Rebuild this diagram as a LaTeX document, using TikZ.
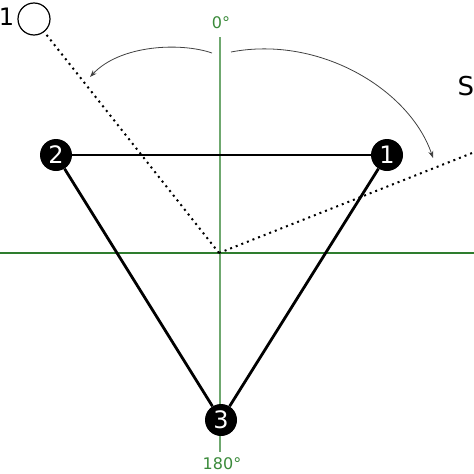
\documentclass[tikz,border=0pt]{standalone}
\usepackage{fontspec}
\setmainfont{DejaVu Sans}
\usetikzlibrary{arrows.meta}
\definecolor{axisgreen}{HTML}{2E7D2E}
\definecolor{vaxisgreen}{HTML}{6FA86F}
\definecolor{labelgreen}{HTML}{3A8A3A}
\definecolor{arcgray}{HTML}{404040}
\begin{document}
\begin{tikzpicture}[x=1pt,y=-1pt,
  vertex/.style={circle,fill=black,minimum size=32pt,inner sep=0pt,text=white,font=\fontsize{24}{24}\selectfont},
  ghost/.style={circle,draw=black,line width=1.2pt,fill=white,minimum size=32pt,inner sep=0pt},
  edge/.style={line width=2.8pt,black},
  dotline/.style={line width=2pt,dash pattern=on 2pt off 4pt,black},
  rotarrow/.style={line width=0.8pt,arcgray,-{Stealth[length=7pt,width=5pt]}},
  angle/.style={text=labelgreen,font=\fontsize{16}{16}\selectfont,inner sep=0pt},
  biglabel/.style={inner sep=0pt,font=\fontsize{24}{24}\selectfont}
]
\useasboundingbox (0,0) rectangle (474,474);
\begin{scope}
\clip (0,0) rectangle (474,474);
% axes
\draw[axisgreen,line width=1.4pt] (0,253) -- (474,253);
\draw[vaxisgreen,line width=1.1pt] (220,37) -- (220,452);
\node[angle] (zero) at (221,23) {0°};
\node[angle] (oneeighty) at (222,463.5) {180°};
% center and orientations
\coordinate (c) at (219,253);
\coordinate (rend) at (500,142);
\node[ghost] (g) at (34,19) {};
\node[biglabel] (glab) at (6.5,17) {1};
\draw[dotline] (c) -- (g);
\draw[dotline] (c) -- (rend);
\node[biglabel,anchor=west,font=\fontsize{26}{26}\selectfont] (s) at (457.5,86.5) {S};
% rotation arrows
\coordinate (a1s) at (212,53);
\coordinate (a1e) at (90,77);
\coordinate (a2s) at (231,52);
\coordinate (a2e) at (433,158);
\draw[rotarrow] (a1s) .. controls (180,42) and (120,45) .. (a1e);
\draw[rotarrow] (a2s) .. controls (320,35) and (410,90) .. (a2e);
% triangle
\node[vertex] (n2) at (56,155) {2};
\node[vertex] (n1) at (387,155) {1};
\node[vertex] (n3) at (221,420) {3};
\draw[edge] (n2) -- (n1);
\draw[edge] (n2) -- (n3);
\draw[edge] (n1) -- (n3);
\end{scope}
\end{tikzpicture}
\end{document}
